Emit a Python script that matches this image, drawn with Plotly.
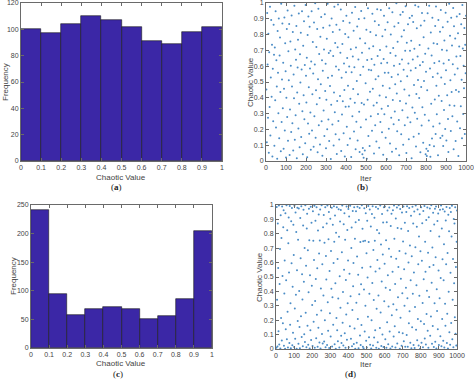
import plotly.graph_objects as go

# ---------------- data ----------------
BIN_CENTERS = [0.05, 0.15, 0.25, 0.35, 0.45, 0.55, 0.65, 0.75, 0.85, 0.95]
HIST_A = [100, 97, 104, 110, 107, 102, 91, 89, 98, 102]
HIST_C = [241, 95, 58, 68, 72, 69, 51, 56, 85, 205]

# chaotic values read (estimated) from panel (b), in thousandths, iteration order
VALS_B = [
    452, 118, 937, 611, 274, 805, 53, 689, 342, 976, 161, 528, 893, 407, 735, 29, 584, 251, 862, 673,
    96, 719, 385, 948, 212, 637, 471, 15, 823, 559, 303, 902, 144, 668, 782, 437, 61, 995, 247, 516,
    871, 334, 622, 78, 457, 909, 193, 745, 568, 22, 401, 836, 279, 953, 128, 694, 511, 867, 38, 326,
    757, 603, 184, 921, 472, 239, 816, 66, 548, 397, 982, 135, 705, 289, 641, 854, 17, 434, 591, 768,
    205, 933, 362, 87, 676, 497, 811, 152, 579, 948, 315, 43, 729, 416, 885, 264, 607, 112, 987, 540,
    371, 653, 24, 797, 238, 915, 466, 172, 849, 585, 307, 71, 630, 948, 193, 422, 753, 554, 90, 876,
    283, 611, 999, 147, 447, 722, 359, 835, 56, 517, 963, 226, 678, 399, 104, 787, 486, 912, 252, 637,
    33, 571, 844, 319, 706, 158, 929, 443, 615, 81, 388, 774, 201, 996, 527, 262, 683, 127, 858, 475,
    698, 12, 356, 902, 540, 231, 817, 664, 98, 433, 976, 308, 747, 169, 598, 862, 45, 379, 720, 991,
    253, 578, 136, 830, 412, 685, 959, 63, 527, 294, 741, 378, 886, 176, 617, 449, 28, 804, 343, 561,
    919, 217, 652, 101, 476, 783, 345, 598, 875, 142, 394, 707, 26, 561, 938, 283, 661, 456, 824, 187,
    593, 369, 975, 74, 719, 248, 506, 851, 130, 423, 643, 898, 311, 57, 776, 544, 214, 950, 367, 685,
    42, 83, 597, 21, 358, 904, 66, 745, 492, 263, 831, 14, 639, 387, 967, 159, 578, 712, 95, 438,
    817, 283, 574, 646, 191, 932, 457, 726, 351, 48, 609, 884, 227, 518, 796, 123, 369, 960, 664, 298,
    537, 861, 84, 415, 702, 247, 955, 618, 330, 182, 789, 476, 39, 645, 919, 296, 558, 831, 147, 404,
    725, 13, 622, 878, 348, 559, 204, 967, 461, 110, 683, 801, 274, 532, 59, 941, 386, 715, 233, 603,
    852, 313, 485, 666, 78, 998, 427, 189, 754, 547, 873, 259, 36, 614, 380, 926, 505, 170, 788, 642,
    321, 943, 103, 578, 827, 452, 226, 697, 980, 364, 51, 748, 536, 276, 866, 617, 138, 415, 905, 697,
    245, 572, 761, 18, 919, 338, 642, 879, 154, 481, 710, 306, 985, 589, 92, 424, 840, 267, 661, 513,
    977, 173, 399, 734, 606, 55, 857, 468, 225, 937, 340, 626, 116, 783, 507, 887, 293, 679, 42, 565,
    78, 31, 448, 935, 64, 712, 257, 983, 102, 585, 27, 813, 363, 667, 143, 906, 532, 218, 746, 94,
    621, 389, 855, 171, 978, 477, 296, 740, 554, 36, 893, 413, 632, 237, 818, 146, 956, 528, 379, 704,
    160, 847, 95, 617, 322, 762, 488, 203, 939, 575, 129, 699, 416, 881, 266, 57, 640, 995, 353, 792,
    511, 190, 906, 436, 731, 283, 612, 968, 75, 853, 349, 547, 776, 126, 450, 662, 914, 250, 585, 808,
    32, 438, 725, 931, 207, 664, 347, 866, 514, 144, 988, 712, 298, 603, 461, 842, 171, 735, 556, 919,
]

# chaotic values read (estimated) from panel (d), in thousandths, iteration order
VALS_D = [
    8, 986, 342, 17, 871, 563, 124, 997, 31, 452, 694, 3, 928, 216, 771, 59, 989, 507, 178, 846,
    963, 22, 386, 615, 2, 942, 137, 477, 998, 68, 824, 259, 11, 735, 914, 531, 42, 993, 169, 318,
    5, 887, 596, 979, 26, 433, 113, 862, 652, 14, 995, 282, 71, 948, 377, 812, 1, 547, 981, 195,
    758, 37, 976, 403, 153, 6, 909, 631, 228, 991, 84, 519, 343, 19, 857, 967, 467, 103, 702, 48,
    999, 251, 578, 12, 836, 940, 162, 685, 29, 394, 974, 755, 4, 513, 130, 988, 62, 876, 440, 305,
    21, 957, 751, 189, 618, 995, 9, 333, 891, 486, 75, 984, 237, 560, 16, 823, 148, 934, 663, 45,
    754, 969, 3, 421, 267, 998, 105, 588, 38, 846, 372, 930, 52, 737, 199, 985, 12, 645, 482, 872,
    27, 996, 324, 127, 762, 951, 7, 541, 248, 905, 86, 681, 419, 981, 18, 359, 862, 169, 598, 992,
    744, 33, 927, 456, 1, 807, 216, 984, 131, 625, 54, 351, 971, 779, 10, 506, 885, 286, 965, 92,
    41, 672, 997, 183, 395, 24, 867, 551, 943, 110, 758, 8, 479, 239, 990, 65, 827, 318, 614, 973,
    13, 921, 523, 158, 995, 367, 71, 702, 843, 19, 271, 959, 436, 597, 35, 985, 142, 765, 2, 881,
    956, 322, 44, 642, 988, 209, 515, 6, 895, 380, 979, 94, 743, 28, 450, 167, 998, 564, 835, 15,
    749, 5, 414, 978, 122, 752, 301, 943, 57, 665, 11, 891, 496, 224, 993, 743, 81, 384, 968, 30,
    572, 850, 3, 199, 937, 458, 991, 25, 687, 341, 79, 912, 752, 130, 539, 986, 9, 280, 826, 618,
    47, 974, 371, 1, 803, 559, 146, 996, 253, 725, 20, 469, 938, 101, 657, 878, 14, 984, 332, 592,
    989, 67, 426, 756, 8, 880, 186, 961, 512, 33, 296, 697, 983, 121, 410, 4, 855, 641, 939, 235,
    18, 537, 964, 310, 87, 996, 765, 158, 452, 10, 907, 626, 273, 982, 39, 841, 359, 570, 998, 117,
    680, 2, 972, 217, 488, 835, 23, 948, 388, 109, 747, 989, 53, 553, 300, 876, 16, 664, 426, 952,
    97, 992, 352, 15, 819, 601, 178, 979, 263, 718, 43, 477, 926, 6, 644, 151, 987, 383, 871, 28,
    531, 955, 7, 292, 706, 996, 134, 443, 849, 61, 968, 208, 588, 24, 782, 369, 936, 1, 678, 193,
    984, 44, 612, 874, 319, 12, 958, 485, 174, 993, 73, 745, 537, 31, 895, 243, 405, 982, 126, 668,
    8, 915, 361, 569, 976, 92, 819, 226, 999, 460, 36, 705, 160, 947, 583, 14, 864, 317, 974, 51,
    637, 990, 4, 415, 264, 889, 137, 941, 545, 27, 781, 353, 967, 88, 493, 997, 19, 836, 209, 624,
    971, 57, 477, 728, 11, 954, 315, 162, 892, 588, 986, 41, 244, 667, 3, 933, 398, 818, 116, 979,
    30, 529, 951, 180, 782, 995, 68, 342, 625, 13, 903, 457, 871, 220, 985, 106, 569, 25, 744, 962,
]

ITER_B = list(range(2, 2 * len(VALS_B) + 1, 2))
ITER_D = list(range(2, 2 * len(VALS_D) + 1, 2))

X_TICKS_HIST = [0, 0.1, 0.2, 0.3, 0.4, 0.5, 0.6, 0.7, 0.8, 0.9, 1]
X_TICKTEXT_HIST = ["0", "0.1", "0.2", "0.3", "0.4", "0.5", "0.6", "0.7", "0.8", "0.9", "1"]
X_TICKS_ITER = [0, 100, 200, 300, 400, 500, 600, 700, 800, 900, 1000]
Y_TICKS_VAL = [0, 0.1, 0.2, 0.3, 0.4, 0.5, 0.6, 0.7, 0.8, 0.9, 1]
Y_TICKTEXT_VAL = ["0", "0.1", "0.2", "0.3", "0.4", "0.5", "0.6", "0.7", "0.8", "0.9", "1"]
Y_TICKS_A = [0, 20, 40, 60, 80, 100, 120]
Y_TICKS_C = [0, 50, 100, 150, 200, 250]

# ---------------- style ----------------
W, H = 474, 380
BAR_COLOR = "#3B27A6"
DOT_COLOR = "#4a8cc6"
AX_COLOR = "#6a6a6a"
TXT_COLOR = "#444444"
FONT = "Liberation Sans, Arial, sans-serif"


def dom_x(l, r):
    return [l / W, r / W]


def dom_y(t, b):
    return [1 - b / H, 1 - t / H]


fig = go.Figure()

fig.add_trace(go.Bar(x=BIN_CENTERS, y=HIST_A, width=0.1,
                     marker=dict(color=BAR_COLOR, line=dict(color="#1a1a1a", width=0.6)),
                     xaxis="x", yaxis="y", showlegend=False))
fig.add_trace(go.Scatter(x=ITER_B, y=[v / 1000 for v in VALS_B], mode="markers",
                         marker=dict(color=DOT_COLOR, size=2, line=dict(width=0)),
                         xaxis="x2", yaxis="y2", showlegend=False))
fig.add_trace(go.Bar(x=BIN_CENTERS, y=HIST_C, width=0.1,
                     marker=dict(color=BAR_COLOR, line=dict(color="#1a1a1a", width=0.6)),
                     xaxis="x3", yaxis="y3", showlegend=False))
fig.add_trace(go.Scatter(x=ITER_D, y=[v / 1000 for v in VALS_D], mode="markers",
                         marker=dict(color=DOT_COLOR, size=2, line=dict(width=0)),
                         xaxis="x4", yaxis="y4", showlegend=False))

common = dict(showline=True, linecolor=AX_COLOR, linewidth=1, mirror="ticks", ticks="inside",
              ticklen=3, tickcolor=AX_COLOR, tickwidth=0.8, showgrid=False, zeroline=False,
              automargin=False, ticklabeloverflow="allow",
              tickfont=dict(family=FONT, size=7, color=TXT_COLOR))

fig.update_layout(
    width=W, height=H, margin=dict(l=0, r=0, t=0, b=0),
    paper_bgcolor="white", plot_bgcolor="white", bargap=0,
    xaxis=dict(domain=dom_x(21, 222), range=[0, 1], tickvals=X_TICKS_HIST, ticktext=X_TICKTEXT_HIST,
               anchor="y", **common),
    yaxis=dict(domain=dom_y(3, 161), range=[0, 120], tickvals=Y_TICKS_A, anchor="x", **common),
    xaxis2=dict(domain=dom_x(266, 466), range=[0, 1000], tickvals=X_TICKS_ITER, anchor="y2", **common),
    yaxis2=dict(domain=dom_y(3, 161), range=[0, 1], tickvals=Y_TICKS_VAL, ticktext=Y_TICKTEXT_VAL,
                anchor="x2", **common),
    xaxis3=dict(domain=dom_x(31, 212), range=[0, 1], tickvals=X_TICKS_HIST, ticktext=X_TICKTEXT_HIST,
                anchor="y3", **common),
    yaxis3=dict(domain=dom_y(205, 348), range=[0, 250], tickvals=Y_TICKS_C, anchor="x3", **common),
    xaxis4=dict(domain=dom_x(276, 457), range=[0, 1000], tickvals=X_TICKS_ITER, anchor="y4", **common),
    yaxis4=dict(domain=dom_y(205, 349), range=[0, 1], tickvals=Y_TICKS_VAL, ticktext=Y_TICKTEXT_VAL,
                anchor="x4", **common),
)

# axis titles
tfont = dict(family=FONT, size=8, color=TXT_COLOR)
titles = [
    ("Chaotic Value", 121, 177, 0), ("Frequency", 5, 82, -90),
    ("Iter", 366, 178, 0), ("Chaotic Value", 250, 82, -90),
    ("Chaotic Value", 121, 363, 0), ("Frequency", 13, 276, -90),
    ("Iter", 366, 364, 0), ("Chaotic Value", 259, 277, -90),
]
for txt, px, py, ang in titles:
    fig.add_annotation(text=txt, x=px / W, y=1 - py / H, xref="paper", yref="paper", textangle=ang,
                       showarrow=False, font=tfont, xanchor="center", yanchor="middle")

# panel labels
lab_font = dict(family="Liberation Serif, Times New Roman, serif", size=9, color="#222222")
for txt, px, py in [("(<b>a</b>)", 116, 187), ("(<b>b</b>)", 362, 187),
                    ("(<b>c</b>)", 118, 374), ("(<b>d</b>)", 350, 374)]:
    fig.add_annotation(text=txt, x=px / W, y=1 - py / H, xref="paper", yref="paper",
                       showarrow=False, font=lab_font, xanchor="center", yanchor="middle")

fig.write_html("out.html", config={"displayModeBar": False},
               post_script="document.body.style.margin='0';document.body.style.overflow='hidden';")
